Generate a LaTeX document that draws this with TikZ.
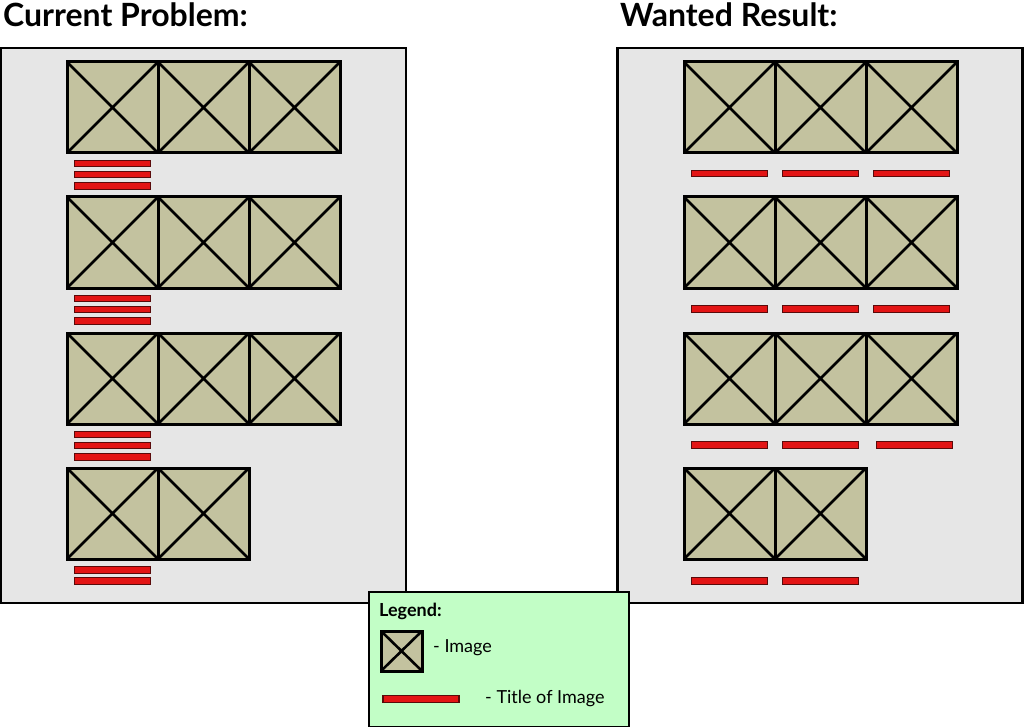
\documentclass[tikz,border=0pt]{standalone}
\usepackage{fontspec}
\setmainfont{Lato}
\definecolor{panelgray}{HTML}{E6E6E6}
\definecolor{imgfill}{HTML}{C3C29F}
\definecolor{barred}{HTML}{E31414}
\definecolor{bardraw}{HTML}{5A0A0A}
\definecolor{legendgreen}{HTML}{C2FEC6}
\tikzset{
  panel/.style={draw=black, line width=2.4pt, fill=panelgray, rectangle, inner sep=0pt},
  imgcell/.style={draw=black, line width=3pt, fill=imgfill, rectangle, inner sep=0pt,
    minimum width=91pt, minimum height=91pt,
    path picture={\draw[line width=2.6pt] (path picture bounding box.north west) -- (path picture bounding box.south east)
      (path picture bounding box.south west) -- (path picture bounding box.north east);}},
  titlebar/.style={draw=bardraw, line width=1.1pt, fill=barred, rectangle, inner sep=0pt,
    minimum width=76pt, minimum height=6.8pt},
  heading/.style={font=\fontsize{32}{38}\selectfont\bfseries, inner sep=0pt, anchor=base west},
  legtext/.style={font=\fontsize{18}{21}\selectfont, inner sep=0pt, anchor=west},
}
\begin{document}
\begin{tikzpicture}[x=1pt,y=-1pt]
\useasboundingbox (0,0) rectangle (1024,727);
% titles
\node[heading] (t1) at (3,27) {Current Problem:};
\node[heading] (t2) at (620,27) {Wanted Result:};
% panels
\node[panel, minimum width=405pt, minimum height=555pt] (lp) at (203.5,325.5) {};
\node[panel, minimum width=405pt, minimum height=555pt] (rp) at (820,325.5) {};
% left images
\foreach \r/\y in {1/107.5,2/242.5,3/378.5}{
  \foreach \c/\x in {1/112.5,2/203.5,3/294.5}{
    \node[imgcell] (L\r\c) at (\x,\y) {};
  }
}
\node[imgcell] (L41) at (112.5,513.5) {};
\node[imgcell] (L42) at (203.5,513.5) {};
% left title bars
\foreach \r/\t in {1/62,2/197,3/333}{
  \foreach \k/\o in {1/101.5,2/112.5,3/124}{
    \node[titlebar] (LB\r\k) at (112.3,\t+\o) {};
  }
}
\node[titlebar] (LB41) at (112.3,570.3) {};
\node[titlebar] (LB42) at (112.3,581.2) {};
% right images
\foreach \r/\y in {1/107.5,2/242.5,3/378.5}{
  \foreach \c/\x in {1/729.5,2/820.5,3/911.5}{
    \node[imgcell] (R\r\c) at (\x,\y) {};
  }
}
\node[imgcell] (R41) at (729.5,513.5) {};
\node[imgcell] (R42) at (820.5,513.5) {};
% right title bars
\node[titlebar] (RB11) at (729.7,173.5) {};
\node[titlebar] (RB12) at (820.5,173.5) {};
\node[titlebar] (RB13) at (911.5,173.5) {};
\node[titlebar] (RB21) at (729.7,309) {};
\node[titlebar] (RB22) at (820.5,309) {};
\node[titlebar] (RB23) at (911.5,309) {};
\node[titlebar] (RB31) at (729.7,445) {};
\node[titlebar] (RB32) at (820.5,445) {};
\node[titlebar] (RB33) at (914.5,445) {};
\node[titlebar] (RB41) at (729.7,581) {};
\node[titlebar] (RB42) at (820.5,581) {};
% legend
\node[draw=black, line width=2.4pt, fill=legendgreen, rectangle, inner sep=0pt,
  minimum width=260pt, minimum height=135pt] (leg) at (499,659.5) {};
\node[legtext, font=\fontsize{18}{21}\selectfont\bfseries] (legT) at (379,611) {Legend:};
\node[imgcell, minimum width=41pt, minimum height=40pt] (legImg) at (401.5,651) {};
\node[legtext] (legImgT) at (433,648) {- Image};
\node[titlebar] (legBar) at (421,699) {};
\node[legtext] (legBarT) at (485,699) {- Title of Image};
\end{tikzpicture}
\end{document}
